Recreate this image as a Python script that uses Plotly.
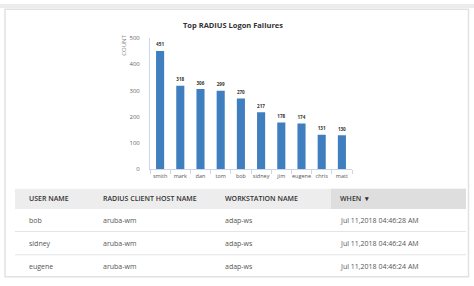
import plotly.graph_objects as go

W, H = 474, 286

users = ["smith", "mark", "dan", "tom", "bob", "sidney", "jim", "eugene", "chris", "matt"]
counts = [451, 318, 306, 299, 270, 217, 178, 174, 131, 130]
y_ticks = [0, 100, 200, 300, 400, 500]

table_headers = ["USER NAME", "RADIUS CLIENT HOST NAME", "WORKSTATION NAME", "WHEN \u00a0\u25BE"]
col_user = ["bob", "sidney", "eugene"]
col_host = ["aruba-wm", "aruba-wm", "aruba-wm"]
col_ws = ["adap-ws", "adap-ws", "adap-ws"]
col_when = ["Jul 11,2018 04:46:28 AM", "Jul 11,2018 04:46:24 AM", "Jul 11,2018 04:46:24 AM"]


def px(x):
    return x / W


def py(y):
    return 1 - y / H


FONT = "Open Sans"

fig = go.Figure()
fig.add_trace(go.Bar(
    x=users, y=counts,
    marker=dict(color="#3f7ebf", line=dict(width=0)),
    text=counts, textposition="outside", cliponaxis=False,
    textfont=dict(family=FONT, size=6.5, color="#333333", weight="bold"),
    hoverinfo="skip",
))

shapes = []
annotations = []

# card frame
shapes.append(dict(type="rect", xref="paper", yref="paper",
                   x0=px(0), x1=px(474), y0=py(0), y1=py(4),
                   fillcolor="#ececec", line=dict(width=0), layer="below"))
shapes.append(dict(type="rect", xref="paper", yref="paper",
                   x0=px(5), x1=px(468.5), y0=py(280.5), y1=py(5.5),
                   fillcolor="rgba(0,0,0,0)", line=dict(color="#e2e2e2", width=1.5), layer="below"))

# table geometry
tx0, tx1 = 15, 466
col_x = [27, 101, 223, 338]
head_y0, head_y1 = 190, 211
row_bounds = [(211, 234), (234, 258), (258, 280)]

shapes.append(dict(type="rect", xref="paper", yref="paper",
                   x0=px(tx0), x1=px(tx1), y0=py(head_y1), y1=py(head_y0),
                   fillcolor="#ededed", line=dict(width=0), layer="below"))
shapes.append(dict(type="rect", xref="paper", yref="paper",
                   x0=px(331), x1=px(tx1), y0=py(head_y1), y1=py(head_y0),
                   fillcolor="#dedede", line=dict(width=0), layer="below"))
for (r0, r1) in row_bounds[:-1]:
    shapes.append(dict(type="line", xref="paper", yref="paper",
                       x0=px(tx0), x1=px(tx1), y0=py(r1), y1=py(r1),
                       line=dict(color="#e4e4e4", width=1), layer="below"))

for i, h in enumerate(table_headers):
    annotations.append(dict(text=h, xref="paper", yref="paper",
                            x=px(col_x[i]), y=py((head_y0 + head_y1) / 2),
                            xanchor="left", yanchor="middle", showarrow=False,
                            font=dict(family=FONT, size=7, color="#333333", weight=600)))

columns = [col_user, col_host, col_ws, col_when]
for r, (r0, r1) in enumerate(row_bounds):
    yc = (r0 + r1) / 2 if r < 2 else 270
    for c, col in enumerate(columns):
        annotations.append(dict(text=col[r], xref="paper", yref="paper",
                                x=px(col_x[c]), y=py(yc),
                                xanchor="left", yanchor="middle", showarrow=False,
                                font=dict(family=FONT, size=7, color="#555555")))

# title
annotations.append(dict(text="Top RADIUS Logon Failures", xref="paper", yref="paper",
                        x=px(233), y=py(22), xanchor="center", yanchor="middle",
                        showarrow=False,
                        font=dict(family=FONT, size=7.5, color="#333333", weight="bold")))
# y axis title
annotations.append(dict(text="COUNT", xref="paper", yref="paper",
                        x=px(124), y=py(43), xanchor="center", yanchor="middle",
                        textangle=-90, showarrow=False,
                        font=dict(family=FONT, size=6, color="#888888")))

fig.update_layout(
    width=W, height=H,
    margin=dict(l=0, r=0, t=0, b=0),
    paper_bgcolor="white", plot_bgcolor="white",
    showlegend=False,
    bargap=0.6,
    shapes=shapes, annotations=annotations,
    xaxis=dict(domain=[px(150), px(352)], type="category",
               showline=True, linecolor="#ccd6eb", linewidth=1,
               ticks="outside", tickson="boundaries", ticklen=4, tickcolor="#ccd6eb",
               showgrid=False, zeroline=False, tickangle=0,
               tickfont=dict(family=FONT, size=5.5, color="#555555"), ticklabelstandoff=1),
    yaxis=dict(domain=[py(170), py(35)], range=[0, 500],
               tickvals=y_ticks, showline=True, linecolor="#ccd6eb", linewidth=1,
               showgrid=False, zeroline=False, ticks="",
               tickfont=dict(family=FONT, size=6, color="#666666"), ticklabelstandoff=8),
)

fig.write_html("out.html")
